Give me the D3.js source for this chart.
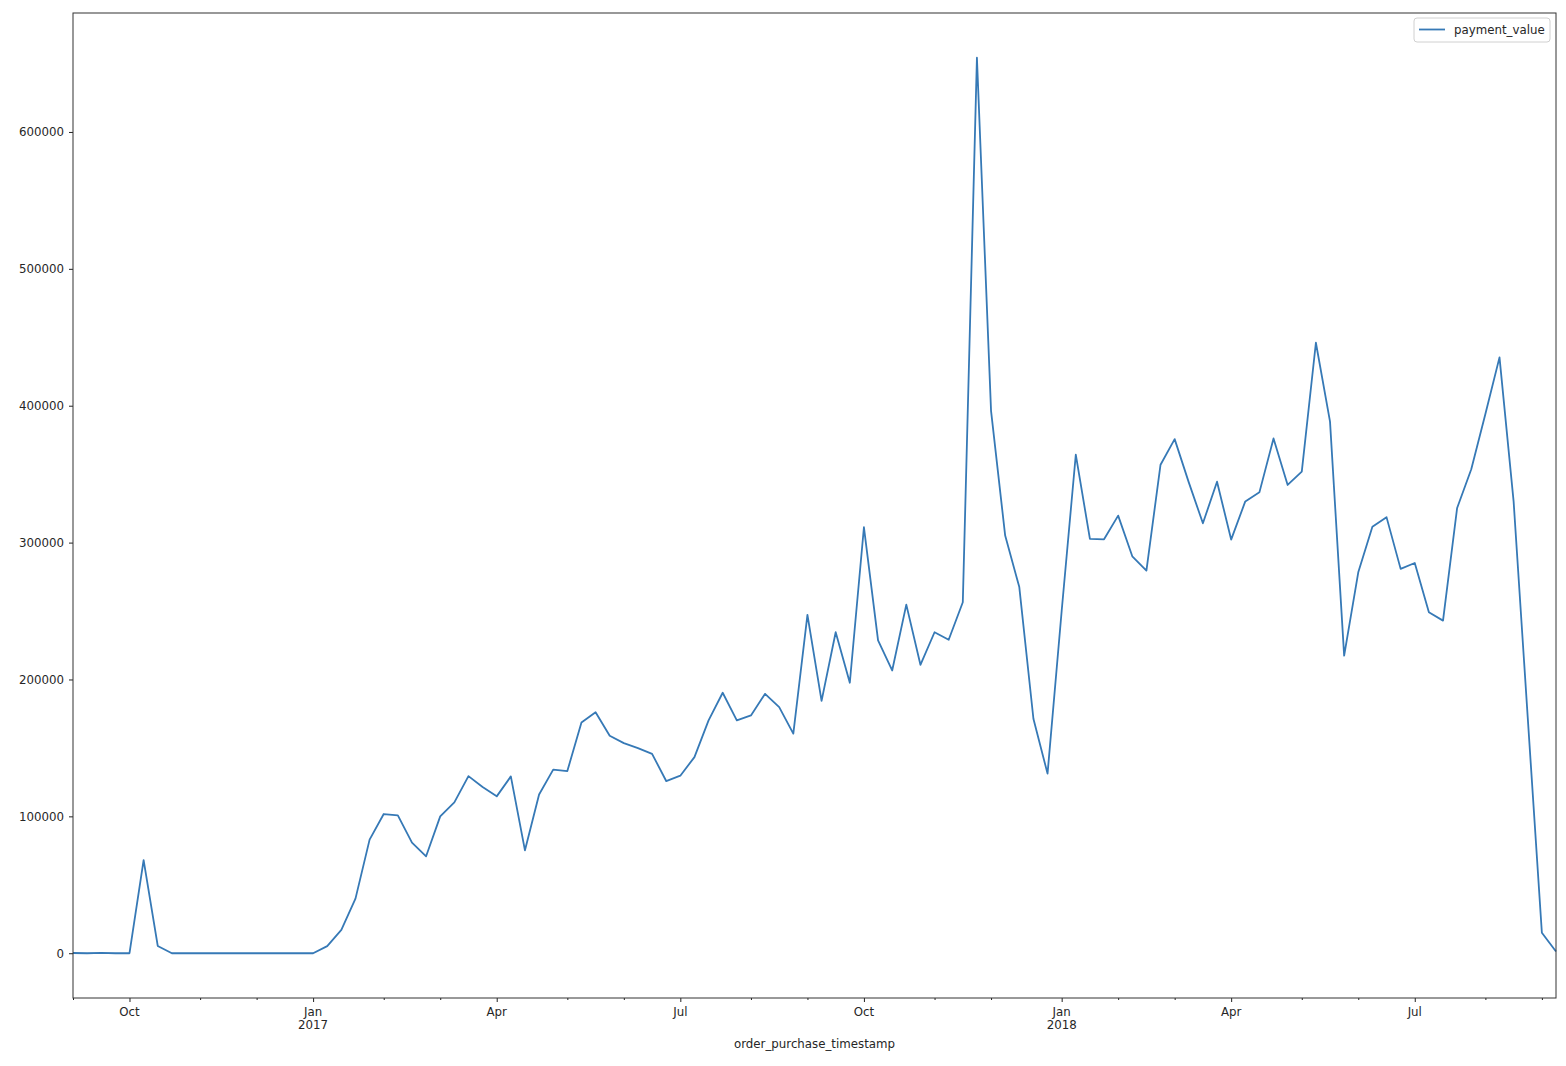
<!DOCTYPE html>
<html>
<head>
<meta charset="utf-8">
<script src="https://cdn.jsdelivr.net/npm/d3@7"></script>
<style>
  html, body { margin: 0; padding: 0; background: #fff; }
  svg { display: block; }
  text { font-family: "DejaVu Sans", sans-serif; fill: #262626; }
</style>
</head>
<body>
<svg id="chart" width="1566" height="1066"></svg>
<script>
// ---- data (weekly sums, week ending Sunday) ----
const firstWeek = "2016-09-04";
const lastWeek = "2018-09-09";
const seriesName = "payment_value";
const xLabel = "order_purchase_timestamp";
const paymentValue = [
  150, 0, 250, 0, 0, 68000, 5300,
  0, 0, 0, 0, 0, 0, 0, 0, 0, 0,
  0, 5200, 17000, 39900, 83000, 101700, 100700, 80800, 70800, 100000,
  110200, 129400, 121400, 114600, 129200, 75200, 116000, 134100, 133100, 168600,
  176100, 158900, 153500, 149900, 145700, 125800, 129700, 143300, 170100, 190300,
  170100, 173700, 189500, 179800, 160400, 247200, 184400, 234500, 197600, 311200,
  228500, 206600, 254700, 210700, 234500, 229000, 256400, 654200, 396300, 305100,
  267500, 171300, 131200, 250000, 364200, 302700, 302400, 319700, 290000, 279600,
  356900, 375600, 344000, 314100, 344500, 302200, 330100, 336700, 376100, 342100,
  351800, 446000, 388400, 217400, 278300, 311500, 318600, 280800, 285100, 249100,
  243000, 325300, 353600, 394000, 435300, 329900, 172000, 15000, 1200
];
const yTicks = [0, 100000, 200000, 300000, 400000, 500000, 600000];
const monthStarts = [
  "2016-09-01","2016-10-01","2016-11-01","2016-12-01","2017-01-01","2017-02-01",
  "2017-03-01","2017-04-01","2017-05-01","2017-06-01","2017-07-01","2017-08-01",
  "2017-09-01","2017-10-01","2017-11-01","2017-12-01","2018-01-01","2018-02-01",
  "2018-03-01","2018-04-01","2018-05-01","2018-06-01","2018-07-01","2018-08-01",
  "2018-09-01"
];
const majorMonths = [0, 3, 6, 9]; // Jan, Apr, Jul, Oct
const monthAbbr = ["Jan","Feb","Mar","Apr","May","Jun","Jul","Aug","Sep","Oct","Nov","Dec"];

// ---- layout ----
const L = 73, R = 1556, T = 13, B = 998;
const FS = 11.8;
const LINE_COLOR = "#3679b6";
const parse = d3.utcParse("%Y-%m-%d");
const weeks = d3.utcSunday.range(parse(firstWeek), d3.utcDay.offset(parse(lastWeek), 1));
const data = weeks.map((d, i) => ({ date: d, value: paymentValue[i] }));

const svg = d3.select("#chart");

const x = d3.scaleUtc().domain([weeks[0], weeks[weeks.length - 1]]).range([L, R]);
const vmax = d3.max(paymentValue), vmin = d3.min(paymentValue);
const pad = (vmax - vmin) * 0.05;
const y = d3.scaleLinear().domain([vmin - pad, vmax + pad]).range([B, T]);

// ticks: pandas places month ticks at the week that contains the 1st
const tickDates = monthStarts.map(s => {
  const d = parse(s);
  return { date: d3.utcSunday.ceil(d), month: d.getUTCMonth(), year: d.getUTCFullYear() };
});
const major = tickDates.filter(t => majorMonths.includes(t.month));
const minor = tickDates.filter(t => !majorMonths.includes(t.month));

// line
const line = d3.line().x(d => x(d.date)).y(d => y(d.value));
svg.append("path")
  .datum(data)
  .attr("d", line)
  .attr("fill", "none")
  .attr("stroke", LINE_COLOR)
  .attr("stroke-width", 1.8)
  .attr("stroke-linejoin", "round");

// y axis
const yAxis = d3.axisLeft(y).tickValues(yTicks).tickSize(4).tickPadding(5).tickFormat(d3.format("d"));
const gy = svg.append("g").attr("transform", `translate(${L},0)`).call(yAxis);
gy.select(".domain").remove();
gy.selectAll(".tick line").attr("stroke", "#222").attr("stroke-width", 1);
gy.selectAll(".tick text").attr("font-size", FS).attr("font-family", "DejaVu Sans").attr("fill", "#262626");

// x axis major
const xMajor = d3.axisBottom(x).tickValues(major.map(t => t.date)).tickSize(4).tickFormat("");
const gx = svg.append("g").attr("transform", `translate(0,${B})`).call(xMajor);
gx.select(".domain").remove();
gx.selectAll(".tick line").attr("stroke", "#222").attr("stroke-width", 1);
// x axis minor
const xMinor = d3.axisBottom(x).tickValues(minor.map(t => t.date)).tickSize(2).tickFormat("");
const gxm = svg.append("g").attr("transform", `translate(0,${B})`).call(xMinor);
gxm.select(".domain").remove();
gxm.selectAll(".tick line").attr("stroke", "#222").attr("stroke-width", 1);

// major labels
const lab = svg.append("g");
major.forEach(t => {
  const tx = lab.append("text")
    .attr("x", x(t.date))
    .attr("y", B + 18)
    .attr("text-anchor", "middle")
    .attr("font-size", FS);
  tx.append("tspan").attr("x", x(t.date)).text(monthAbbr[t.month]);
  if (t.month === 0) {
    tx.append("tspan").attr("x", x(t.date)).attr("dy", 13).text(t.year);
  }
});

// x label
svg.append("text")
  .attr("x", (L + R) / 2)
  .attr("y", 1048)
  .attr("text-anchor", "middle")
  .attr("font-size", FS)
  .text(xLabel);

// frame
svg.append("rect")
  .attr("x", L).attr("y", T)
  .attr("width", R - L).attr("height", B - T)
  .attr("fill", "none")
  .attr("stroke", "#333")
  .attr("stroke-width", 1);

// legend
const lg = svg.append("g").attr("transform", "translate(1414,18)");
lg.append("rect")
  .attr("x", 0).attr("y", 0).attr("width", 136).attr("height", 24)
  .attr("rx", 3).attr("ry", 3)
  .attr("fill", "#fff").attr("fill-opacity", 0.8)
  .attr("stroke", "#d0d0d0").attr("stroke-width", 1);
lg.append("line")
  .attr("x1", 5).attr("x2", 31).attr("y1", 11.5).attr("y2", 11.5)
  .attr("stroke", LINE_COLOR).attr("stroke-width", 1.8);
lg.append("text")
  .attr("x", 40).attr("y", 16)
  .attr("font-size", FS)
  .text(seriesName);
</script>
</body>
</html>
